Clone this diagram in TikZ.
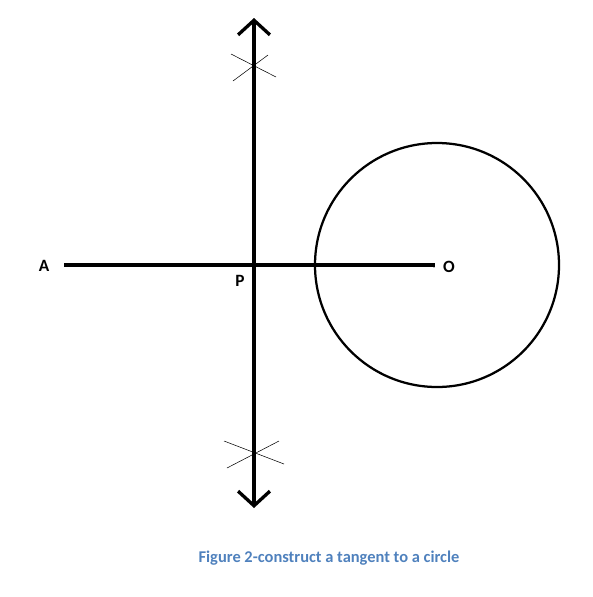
\documentclass[tikz,border=0pt]{standalone}
\usepackage{fontspec}
\setmainfont{Carlito}
\usetikzlibrary{arrows.meta}

\definecolor{capblue}{RGB}{79,129,189}

\tikzset{
  pointlabel/.style={font=\fontsize{13}{15}\selectfont\bfseries},
  arc mark/.style={thin}
}

\begin{document}
\begin{tikzpicture}[x=0.0265cm, y=-0.0265cm]

\useasboundingbox (0,0) rectangle (593,597);

\coordinate (A) at (64,265);
\coordinate (O) at (435,265);
\coordinate (top) at (254,18);
\coordinate (bottom) at (254,508);

\draw [line width=2.5pt] (A) to (O);
\draw [line width=2.5pt, {Straight Barb[length=11pt, width=24pt, line width=2.5pt]}-{Straight Barb[length=11pt, width=24pt, line width=2.5pt]}] (top) to (bottom);

\draw [line width=1.7pt] (437,265) circle (122);

\draw [arc mark] (231,54) to (276,77);
\draw [arc mark] (233,81) to (268,55);

\draw [arc mark] (224,441) to (284,464);
\draw [arc mark] (227,468) to (279,441);

\fill (434,267) circle (0.6);

\node (a) at (44,266) [pointlabel] {A};
\node (p) at (240,281) [pointlabel] {P};
\node (o) at (449,267) [pointlabel] {O};

\node (cap) at (329,558) [text=capblue, font=\fontsize{12.4}{14}\selectfont\bfseries] {Figure 2-construct a tangent to a circle};

\end{tikzpicture}
\end{document}
